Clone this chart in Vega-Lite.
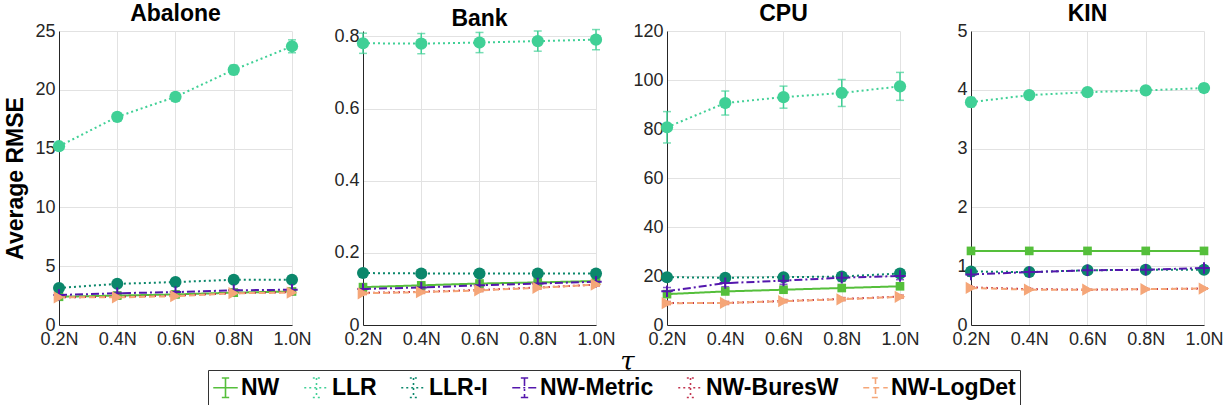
{
  "$schema": "https://vega.github.io/schema/vega-lite/v6.json",
  "padding": {"left": 4, "top": 3, "right": 5, "bottom": 1},
  "datasets": {
    "rmse": [
      {"d":"Abalone","t":0.2,"m":"NW","y":2.4,"lo":2.32,"hi":2.48},
      {"d":"Abalone","t":0.4,"m":"NW","y":2.5,"lo":2.42,"hi":2.58},
      {"d":"Abalone","t":0.6,"m":"NW","y":2.6,"lo":2.52,"hi":2.68},
      {"d":"Abalone","t":0.8,"m":"NW","y":2.75,"lo":2.67,"hi":2.83},
      {"d":"Abalone","t":1.0,"m":"NW","y":2.85,"lo":2.77,"hi":2.93},
      {"d":"Abalone","t":0.2,"m":"LLR","y":15.2,"lo":14.95,"hi":15.45},
      {"d":"Abalone","t":0.4,"m":"LLR","y":17.7,"lo":17.4,"hi":18.0},
      {"d":"Abalone","t":0.6,"m":"LLR","y":19.4,"lo":19.1,"hi":19.7},
      {"d":"Abalone","t":0.8,"m":"LLR","y":21.7,"lo":21.3,"hi":22.1},
      {"d":"Abalone","t":1.0,"m":"LLR","y":23.7,"lo":23.15,"hi":24.25},
      {"d":"Abalone","t":0.2,"m":"LLR-I","y":3.15,"lo":3.05,"hi":3.25},
      {"d":"Abalone","t":0.4,"m":"LLR-I","y":3.5,"lo":3.4,"hi":3.6},
      {"d":"Abalone","t":0.6,"m":"LLR-I","y":3.65,"lo":3.55,"hi":3.75},
      {"d":"Abalone","t":0.8,"m":"LLR-I","y":3.85,"lo":3.75,"hi":3.95},
      {"d":"Abalone","t":1.0,"m":"LLR-I","y":3.85,"lo":3.75,"hi":3.95},
      {"d":"Abalone","t":0.2,"m":"NW-Metric","y":2.55,"lo":2.45,"hi":2.65},
      {"d":"Abalone","t":0.4,"m":"NW-Metric","y":2.7,"lo":2.6,"hi":2.8},
      {"d":"Abalone","t":0.6,"m":"NW-Metric","y":2.8,"lo":2.7,"hi":2.9},
      {"d":"Abalone","t":0.8,"m":"NW-Metric","y":2.95,"lo":2.85,"hi":3.05},
      {"d":"Abalone","t":1.0,"m":"NW-Metric","y":3.0,"lo":2.9,"hi":3.1},
      {"d":"Abalone","t":0.2,"m":"NW-BuresW","y":2.35,"lo":2.27,"hi":2.43},
      {"d":"Abalone","t":0.4,"m":"NW-BuresW","y":2.4,"lo":2.32,"hi":2.48},
      {"d":"Abalone","t":0.6,"m":"NW-BuresW","y":2.5,"lo":2.42,"hi":2.58},
      {"d":"Abalone","t":0.8,"m":"NW-BuresW","y":2.7,"lo":2.62,"hi":2.78},
      {"d":"Abalone","t":1.0,"m":"NW-BuresW","y":2.8,"lo":2.72,"hi":2.88},
      {"d":"Abalone","t":0.2,"m":"NW-LogDet","y":2.35,"lo":2.27,"hi":2.43},
      {"d":"Abalone","t":0.4,"m":"NW-LogDet","y":2.35,"lo":2.27,"hi":2.43},
      {"d":"Abalone","t":0.6,"m":"NW-LogDet","y":2.45,"lo":2.37,"hi":2.53},
      {"d":"Abalone","t":0.8,"m":"NW-LogDet","y":2.7,"lo":2.62,"hi":2.78},
      {"d":"Abalone","t":1.0,"m":"NW-LogDet","y":2.75,"lo":2.67,"hi":2.83},

      {"d":"Bank","t":0.2,"m":"NW","y":0.105,"lo":0.1,"hi":0.11},
      {"d":"Bank","t":0.4,"m":"NW","y":0.11,"lo":0.105,"hi":0.115},
      {"d":"Bank","t":0.6,"m":"NW","y":0.115,"lo":0.11,"hi":0.12},
      {"d":"Bank","t":0.8,"m":"NW","y":0.118,"lo":0.113,"hi":0.123},
      {"d":"Bank","t":1.0,"m":"NW","y":0.122,"lo":0.117,"hi":0.127},
      {"d":"Bank","t":0.2,"m":"LLR","y":0.781,"lo":0.753,"hi":0.809},
      {"d":"Bank","t":0.4,"m":"LLR","y":0.78,"lo":0.752,"hi":0.808},
      {"d":"Bank","t":0.6,"m":"LLR","y":0.783,"lo":0.755,"hi":0.811},
      {"d":"Bank","t":0.8,"m":"LLR","y":0.787,"lo":0.759,"hi":0.815},
      {"d":"Bank","t":1.0,"m":"LLR","y":0.791,"lo":0.763,"hi":0.819},
      {"d":"Bank","t":0.2,"m":"LLR-I","y":0.144,"lo":0.14,"hi":0.148},
      {"d":"Bank","t":0.4,"m":"LLR-I","y":0.143,"lo":0.139,"hi":0.147},
      {"d":"Bank","t":0.6,"m":"LLR-I","y":0.143,"lo":0.139,"hi":0.147},
      {"d":"Bank","t":0.8,"m":"LLR-I","y":0.143,"lo":0.139,"hi":0.147},
      {"d":"Bank","t":1.0,"m":"LLR-I","y":0.143,"lo":0.139,"hi":0.147},
      {"d":"Bank","t":0.2,"m":"NW-Metric","y":0.1,"lo":0.095,"hi":0.105},
      {"d":"Bank","t":0.4,"m":"NW-Metric","y":0.104,"lo":0.099,"hi":0.109},
      {"d":"Bank","t":0.6,"m":"NW-Metric","y":0.11,"lo":0.105,"hi":0.115},
      {"d":"Bank","t":0.8,"m":"NW-Metric","y":0.115,"lo":0.11,"hi":0.12},
      {"d":"Bank","t":1.0,"m":"NW-Metric","y":0.12,"lo":0.115,"hi":0.125},
      {"d":"Bank","t":0.2,"m":"NW-BuresW","y":0.089,"lo":0.085,"hi":0.093},
      {"d":"Bank","t":0.4,"m":"NW-BuresW","y":0.092,"lo":0.088,"hi":0.096},
      {"d":"Bank","t":0.6,"m":"NW-BuresW","y":0.097,"lo":0.093,"hi":0.101},
      {"d":"Bank","t":0.8,"m":"NW-BuresW","y":0.104,"lo":0.1,"hi":0.108},
      {"d":"Bank","t":1.0,"m":"NW-BuresW","y":0.112,"lo":0.108,"hi":0.116},
      {"d":"Bank","t":0.2,"m":"NW-LogDet","y":0.088,"lo":0.084,"hi":0.092},
      {"d":"Bank","t":0.4,"m":"NW-LogDet","y":0.091,"lo":0.087,"hi":0.095},
      {"d":"Bank","t":0.6,"m":"NW-LogDet","y":0.096,"lo":0.092,"hi":0.1},
      {"d":"Bank","t":0.8,"m":"NW-LogDet","y":0.103,"lo":0.099,"hi":0.107},
      {"d":"Bank","t":1.0,"m":"NW-LogDet","y":0.112,"lo":0.108,"hi":0.116},

      {"d":"CPU","t":0.2,"m":"NW","y":12.6,"lo":11.8,"hi":13.4},
      {"d":"CPU","t":0.4,"m":"NW","y":13.7,"lo":12.9,"hi":14.5},
      {"d":"CPU","t":0.6,"m":"NW","y":14.4,"lo":13.6,"hi":15.2},
      {"d":"CPU","t":0.8,"m":"NW","y":15.1,"lo":14.3,"hi":15.9},
      {"d":"CPU","t":1.0,"m":"NW","y":15.8,"lo":15.0,"hi":16.6},
      {"d":"CPU","t":0.2,"m":"LLR","y":80.7,"lo":74.3,"hi":87.1},
      {"d":"CPU","t":0.4,"m":"LLR","y":90.6,"lo":85.7,"hi":95.5},
      {"d":"CPU","t":0.6,"m":"LLR","y":93.0,"lo":88.5,"hi":97.5},
      {"d":"CPU","t":0.8,"m":"LLR","y":94.7,"lo":89.2,"hi":100.2},
      {"d":"CPU","t":1.0,"m":"LLR","y":97.4,"lo":91.7,"hi":103.1},
      {"d":"CPU","t":0.2,"m":"LLR-I","y":19.5,"lo":18.7,"hi":20.3},
      {"d":"CPU","t":0.4,"m":"LLR-I","y":19.3,"lo":18.5,"hi":20.1},
      {"d":"CPU","t":0.6,"m":"LLR-I","y":19.5,"lo":18.7,"hi":20.3},
      {"d":"CPU","t":0.8,"m":"LLR-I","y":19.8,"lo":19.0,"hi":20.6},
      {"d":"CPU","t":1.0,"m":"LLR-I","y":21.0,"lo":20.2,"hi":21.8},
      {"d":"CPU","t":0.2,"m":"NW-Metric","y":13.8,"lo":12.3,"hi":15.3},
      {"d":"CPU","t":0.4,"m":"NW-Metric","y":17.1,"lo":15.6,"hi":18.6},
      {"d":"CPU","t":0.6,"m":"NW-Metric","y":18.1,"lo":16.6,"hi":19.6},
      {"d":"CPU","t":0.8,"m":"NW-Metric","y":19.3,"lo":17.8,"hi":20.8},
      {"d":"CPU","t":1.0,"m":"NW-Metric","y":20.0,"lo":18.5,"hi":21.5},
      {"d":"CPU","t":0.2,"m":"NW-BuresW","y":9.0,"lo":8.4,"hi":9.6},
      {"d":"CPU","t":0.4,"m":"NW-BuresW","y":9.0,"lo":8.4,"hi":9.6},
      {"d":"CPU","t":0.6,"m":"NW-BuresW","y":9.8,"lo":9.2,"hi":10.4},
      {"d":"CPU","t":0.8,"m":"NW-BuresW","y":10.6,"lo":10.0,"hi":11.2},
      {"d":"CPU","t":1.0,"m":"NW-BuresW","y":11.6,"lo":11.0,"hi":12.2},
      {"d":"CPU","t":0.2,"m":"NW-LogDet","y":8.9,"lo":8.3,"hi":9.5},
      {"d":"CPU","t":0.4,"m":"NW-LogDet","y":9.0,"lo":8.4,"hi":9.6},
      {"d":"CPU","t":0.6,"m":"NW-LogDet","y":9.7,"lo":9.1,"hi":10.3},
      {"d":"CPU","t":0.8,"m":"NW-LogDet","y":10.5,"lo":9.9,"hi":11.1},
      {"d":"CPU","t":1.0,"m":"NW-LogDet","y":11.5,"lo":10.9,"hi":12.1},

      {"d":"KIN","t":0.2,"m":"NW","y":1.26,"lo":1.25,"hi":1.27},
      {"d":"KIN","t":0.4,"m":"NW","y":1.26,"lo":1.25,"hi":1.27},
      {"d":"KIN","t":0.6,"m":"NW","y":1.26,"lo":1.25,"hi":1.27},
      {"d":"KIN","t":0.8,"m":"NW","y":1.26,"lo":1.25,"hi":1.27},
      {"d":"KIN","t":1.0,"m":"NW","y":1.26,"lo":1.25,"hi":1.27},
      {"d":"KIN","t":0.2,"m":"LLR","y":3.79,"lo":3.71,"hi":3.87},
      {"d":"KIN","t":0.4,"m":"LLR","y":3.91,"lo":3.85,"hi":3.97},
      {"d":"KIN","t":0.6,"m":"LLR","y":3.96,"lo":3.9,"hi":4.02},
      {"d":"KIN","t":0.8,"m":"LLR","y":3.99,"lo":3.93,"hi":4.05},
      {"d":"KIN","t":1.0,"m":"LLR","y":4.03,"lo":3.96,"hi":4.1},
      {"d":"KIN","t":0.2,"m":"LLR-I","y":0.91,"lo":0.89,"hi":0.93},
      {"d":"KIN","t":0.4,"m":"LLR-I","y":0.9,"lo":0.88,"hi":0.92},
      {"d":"KIN","t":0.6,"m":"LLR-I","y":0.93,"lo":0.91,"hi":0.95},
      {"d":"KIN","t":0.8,"m":"LLR-I","y":0.94,"lo":0.92,"hi":0.96},
      {"d":"KIN","t":1.0,"m":"LLR-I","y":0.94,"lo":0.92,"hi":0.96},
      {"d":"KIN","t":0.2,"m":"NW-Metric","y":0.86,"lo":0.83,"hi":0.89},
      {"d":"KIN","t":0.4,"m":"NW-Metric","y":0.9,"lo":0.87,"hi":0.93},
      {"d":"KIN","t":0.6,"m":"NW-Metric","y":0.93,"lo":0.9,"hi":0.96},
      {"d":"KIN","t":0.8,"m":"NW-Metric","y":0.94,"lo":0.91,"hi":0.97},
      {"d":"KIN","t":1.0,"m":"NW-Metric","y":0.97,"lo":0.94,"hi":1.0},
      {"d":"KIN","t":0.2,"m":"NW-BuresW","y":0.64,"lo":0.63,"hi":0.65},
      {"d":"KIN","t":0.4,"m":"NW-BuresW","y":0.61,"lo":0.6,"hi":0.62},
      {"d":"KIN","t":0.6,"m":"NW-BuresW","y":0.6,"lo":0.59,"hi":0.61},
      {"d":"KIN","t":0.8,"m":"NW-BuresW","y":0.61,"lo":0.6,"hi":0.62},
      {"d":"KIN","t":1.0,"m":"NW-BuresW","y":0.62,"lo":0.61,"hi":0.63},
      {"d":"KIN","t":0.2,"m":"NW-LogDet","y":0.63,"lo":0.62,"hi":0.64},
      {"d":"KIN","t":0.4,"m":"NW-LogDet","y":0.6,"lo":0.59,"hi":0.61},
      {"d":"KIN","t":0.6,"m":"NW-LogDet","y":0.6,"lo":0.59,"hi":0.61},
      {"d":"KIN","t":0.8,"m":"NW-LogDet","y":0.61,"lo":0.6,"hi":0.62},
      {"d":"KIN","t":1.0,"m":"NW-LogDet","y":0.62,"lo":0.61,"hi":0.63}
    ]
  },
  "data": {"name": "rmse"},
  "spacing": 71,
  "bounds": "flush",
  "hconcat": [
    {
      "width": 233, "height": 294, "title": "Abalone",
      "transform": [{"filter": "datum.d === 'Abalone'"}],
      "encoding": {
        "x": {"field": "t", "type": "quantitative", "title": null, "scale": {"domain": [0.2, 1.0], "nice": false, "zero": false}, "axis": {"values": [0.2, 0.4, 0.6, 0.8, 1.0], "labelExpr": "format(datum.value, '.1f') + 'N'"}},
        "y": {"field": "y", "type": "quantitative", "title": "Average RMSE", "scale": {"domain": [0, 25], "nice": false}, "axis": {"values": [0, 5, 10, 15, 20, 25]}},
        "color": {"field": "m", "type": "nominal", "scale": {"domain": ["NW","LLR","LLR-I","NW-Metric","NW-BuresW","NW-LogDet"], "range": ["#55bf3b","#40d096","#0b876b","#5417ad","#c23650","#f5a678"]}, "legend": null}
      },
      "layer": [
        {"mark": {"type": "line", "strokeWidth": 2},
         "encoding": {
           "color": {"field": "m", "type": "nominal", "legend": {"title": null, "symbolType": "M-1,0H1M0,-0.8V0.8M-0.3,-0.8H0.3M-0.3,0.8H0.3"}},
           "strokeDash": {"field": "m", "type": "nominal", "scale": {"domain": ["NW","LLR","LLR-I","NW-Metric","NW-BuresW","NW-LogDet"], "range": [[1,0],[2,3],[2,3],[8,3,2,3],[2,3],[6,4]]}, "legend": null}
         }},
        {"mark": {"type": "errorbar", "thickness": 1.5, "ticks": {"size": 8, "thickness": 1.5}},
         "encoding": {"y": {"field": "lo", "type": "quantitative", "title": "Average RMSE"}, "y2": {"field": "hi"}}},
        {"transform": [{"filter": "datum.m === 'NW'"}], "mark": {"type": "point", "shape": "square", "filled": true, "size": 75, "opacity": 1}},
        {"transform": [{"filter": "datum.m === 'LLR'"}], "mark": {"type": "point", "shape": "circle", "filled": true, "size": 150, "opacity": 1}},
        {"transform": [{"filter": "datum.m === 'LLR-I'"}], "mark": {"type": "point", "shape": "circle", "filled": true, "size": 145, "opacity": 1}},
        {"transform": [{"filter": "datum.m === 'NW-Metric'"}], "mark": {"type": "point", "shape": "M-1,0H1M0,-1V1", "filled": false, "size": 130, "strokeWidth": 2, "opacity": 1}},
        {"transform": [{"filter": "datum.m === 'NW-BuresW'"}], "mark": {"type": "point", "shape": "circle", "filled": true, "size": 22, "opacity": 1}},
        {"transform": [{"filter": "datum.m === 'NW-LogDet'"}], "mark": {"type": "point", "shape": "triangle-right", "filled": true, "size": 150, "opacity": 1}}
      ]
    },
    {
      "width": 233, "height": 294, "title": "Bank",
      "transform": [{"filter": "datum.d === 'Bank'"}],
      "encoding": {
        "x": {"field": "t", "type": "quantitative", "title": "τ", "scale": {"domain": [0.2, 1.0], "nice": false, "zero": false},
          "axis": {"values": [0.2, 0.4, 0.6, 0.8, 1.0], "labelExpr": "format(datum.value, '.1f') + 'N'", "titleX": 264, "titleFont": "DejaVu Serif", "titleFontStyle": "italic", "titleFontWeight": "normal", "titleFontSize": 26, "titlePadding": 0}},
        "y": {"field": "y", "type": "quantitative", "title": null, "scale": {"domain": [0, 0.815], "nice": false}, "axis": {"values": [0, 0.2, 0.4, 0.6, 0.8]}},
        "color": {"field": "m", "type": "nominal", "legend": null}
      },
      "layer": [
        {"mark": {"type": "line", "strokeWidth": 2},
         "encoding": {
           "color": {"field": "m", "type": "nominal"},
           "strokeDash": {"field": "m", "type": "nominal", "legend": null}
         }},
        {"mark": {"type": "errorbar", "thickness": 1.5, "ticks": {"size": 8, "thickness": 1.5}},
         "encoding": {"y": {"field": "lo", "type": "quantitative", "title": null}, "y2": {"field": "hi"}}},
        {"transform": [{"filter": "datum.m === 'NW'"}], "mark": {"type": "point", "shape": "square", "filled": true, "size": 75, "opacity": 1}},
        {"transform": [{"filter": "datum.m === 'LLR'"}], "mark": {"type": "point", "shape": "circle", "filled": true, "size": 150, "opacity": 1}},
        {"transform": [{"filter": "datum.m === 'LLR-I'"}], "mark": {"type": "point", "shape": "circle", "filled": true, "size": 145, "opacity": 1}},
        {"transform": [{"filter": "datum.m === 'NW-Metric'"}], "mark": {"type": "point", "shape": "M-1,0H1M0,-1V1", "filled": false, "size": 130, "strokeWidth": 2, "opacity": 1}},
        {"transform": [{"filter": "datum.m === 'NW-BuresW'"}], "mark": {"type": "point", "shape": "circle", "filled": true, "size": 22, "opacity": 1}},
        {"transform": [{"filter": "datum.m === 'NW-LogDet'"}], "mark": {"type": "point", "shape": "triangle-right", "filled": true, "size": 150, "opacity": 1}}
      ]
    },
    {
      "width": 233, "height": 294, "title": "CPU",
      "transform": [{"filter": "datum.d === 'CPU'"}],
      "encoding": {
        "x": {"field": "t", "type": "quantitative", "title": null, "scale": {"domain": [0.2, 1.0], "nice": false, "zero": false}, "axis": {"values": [0.2, 0.4, 0.6, 0.8, 1.0], "labelExpr": "format(datum.value, '.1f') + 'N'"}},
        "y": {"field": "y", "type": "quantitative", "title": null, "scale": {"domain": [0, 120], "nice": false}, "axis": {"values": [0, 20, 40, 60, 80, 100, 120], "format": "d"}},
        "color": {"field": "m", "type": "nominal", "legend": null}
      },
      "layer": [
        {"mark": {"type": "line", "strokeWidth": 2},
         "encoding": {
           "color": {"field": "m", "type": "nominal"},
           "strokeDash": {"field": "m", "type": "nominal", "legend": null}
         }},
        {"mark": {"type": "errorbar", "thickness": 1.5, "ticks": {"size": 8, "thickness": 1.5}},
         "encoding": {"y": {"field": "lo", "type": "quantitative", "title": null}, "y2": {"field": "hi"}}},
        {"transform": [{"filter": "datum.m === 'NW'"}], "mark": {"type": "point", "shape": "square", "filled": true, "size": 75, "opacity": 1}},
        {"transform": [{"filter": "datum.m === 'LLR'"}], "mark": {"type": "point", "shape": "circle", "filled": true, "size": 150, "opacity": 1}},
        {"transform": [{"filter": "datum.m === 'LLR-I'"}], "mark": {"type": "point", "shape": "circle", "filled": true, "size": 145, "opacity": 1}},
        {"transform": [{"filter": "datum.m === 'NW-Metric'"}], "mark": {"type": "point", "shape": "M-1,0H1M0,-1V1", "filled": false, "size": 130, "strokeWidth": 2, "opacity": 1}},
        {"transform": [{"filter": "datum.m === 'NW-BuresW'"}], "mark": {"type": "point", "shape": "circle", "filled": true, "size": 22, "opacity": 1}},
        {"transform": [{"filter": "datum.m === 'NW-LogDet'"}], "mark": {"type": "point", "shape": "triangle-right", "filled": true, "size": 150, "opacity": 1}}
      ]
    },
    {
      "width": 233, "height": 294, "title": "KIN",
      "transform": [{"filter": "datum.d === 'KIN'"}],
      "encoding": {
        "x": {"field": "t", "type": "quantitative", "title": null, "scale": {"domain": [0.2, 1.0], "nice": false, "zero": false}, "axis": {"values": [0.2, 0.4, 0.6, 0.8, 1.0], "labelExpr": "format(datum.value, '.1f') + 'N'"}},
        "y": {"field": "y", "type": "quantitative", "title": null, "scale": {"domain": [0, 5], "nice": false}, "axis": {"values": [0, 1, 2, 3, 4, 5], "format": "d"}},
        "color": {"field": "m", "type": "nominal", "legend": null}
      },
      "layer": [
        {"mark": {"type": "line", "strokeWidth": 2},
         "encoding": {
           "color": {"field": "m", "type": "nominal"},
           "strokeDash": {"field": "m", "type": "nominal", "legend": null}
         }},
        {"mark": {"type": "errorbar", "thickness": 1.5, "ticks": {"size": 8, "thickness": 1.5}},
         "encoding": {"y": {"field": "lo", "type": "quantitative", "title": null}, "y2": {"field": "hi"}}},
        {"transform": [{"filter": "datum.m === 'NW'"}], "mark": {"type": "point", "shape": "square", "filled": true, "size": 75, "opacity": 1}},
        {"transform": [{"filter": "datum.m === 'LLR'"}], "mark": {"type": "point", "shape": "circle", "filled": true, "size": 150, "opacity": 1}},
        {"transform": [{"filter": "datum.m === 'LLR-I'"}], "mark": {"type": "point", "shape": "circle", "filled": true, "size": 145, "opacity": 1}},
        {"transform": [{"filter": "datum.m === 'NW-Metric'"}], "mark": {"type": "point", "shape": "M-1,0H1M0,-1V1", "filled": false, "size": 130, "strokeWidth": 2, "opacity": 1}},
        {"transform": [{"filter": "datum.m === 'NW-BuresW'"}], "mark": {"type": "point", "shape": "circle", "filled": true, "size": 22, "opacity": 1}},
        {"transform": [{"filter": "datum.m === 'NW-LogDet'"}], "mark": {"type": "point", "shape": "triangle-right", "filled": true, "size": 150, "opacity": 1}}
      ]
    }
  ],
  "config": {
    "view": {"stroke": null},
    "font": "Liberation Sans",
    "title": {"font": "Liberation Sans", "fontSize": 23, "fontWeight": "bold", "color": "#000", "offset": -4, "frame": "group"},
    "axis": {
      "labelFont": "Liberation Sans", "labelFontSize": 18, "labelColor": "#262626",
      "domainColor": "#262626", "domainWidth": 1, "gridColor": "#e2e2e2", "gridWidth": 1,
      "ticks": false, "labelPadding": 4, "labelFlush": false, "labelOverlap": false, "format": "~r",
      "titleFont": "Liberation Sans", "titleFontSize": 23, "titleFontWeight": "bold", "titleColor": "#000", "titlePadding": 7
    },
    "axisX": {"labelPadding": 5},
    "legend": {
      "orient": "bottom", "direction": "horizontal",
      "labelFont": "Liberation Sans", "labelFontSize": 23, "labelFontWeight": "bold", "labelColor": "#000",
      "strokeColor": "#333", "padding": 4, "columnPadding": 21, "symbolStrokeWidth": 1.6, "symbolSize": 600,
      "labelOffset": 2, "offset": -4,
      "layout": {"bottom": {"anchor": "middle"}}
    }
  }
}
